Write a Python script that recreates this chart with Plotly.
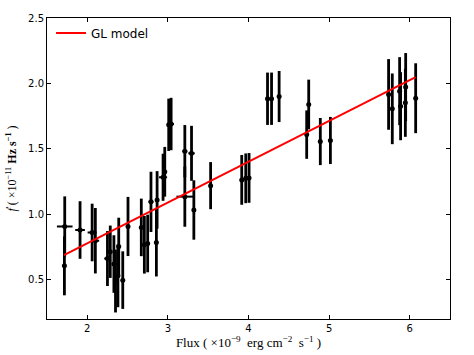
import plotly.graph_objects as go

flux = [1.716, 1.72, 1.91, 2.06, 2.10, 2.25, 2.285, 2.33, 2.35, 2.38, 2.39, 2.44, 2.505,
        2.67, 2.708, 2.749, 2.79, 2.857, 2.866, 2.94, 2.961, 3.01, 3.04, 3.21, 3.21,
        3.293, 3.322, 3.53, 3.916, 3.966, 4.007, 4.236, 4.286, 4.38, 4.722, 4.747,
        4.891, 5.016, 5.738, 5.784, 5.875, 5.887, 5.95, 5.946, 6.074]
fdot = [0.606, 0.907, 0.88, 0.861, 0.798, 0.662, 0.714, 0.62, 0.49, 0.53, 0.754, 0.497, 0.907,
        0.90, 0.767, 0.777, 1.095, 0.785, 1.11, 1.283, 1.325, 1.684, 1.69, 1.482, 1.135,
        1.466, 1.033, 1.219, 1.263, 1.275, 1.278, 1.883, 1.883, 1.90, 1.609, 1.839,
        1.556, 1.564, 1.916, 1.806, 1.941, 1.826, 1.972, 1.852, 1.887]
fdot_err = [0.225, 0.23, 0.22, 0.22, 0.25, 0.21, 0.2, 0.22, 0.24, 0.24, 0.22, 0.22, 0.226,
            0.22, 0.22, 0.22, 0.23, 0.26, 0.22, 0.18, 0.19, 0.2, 0.2, 0.2, 0.23,
            0.21, 0.227, 0.18, 0.19, 0.19, 0.19, 0.2, 0.2, 0.195, 0.185, 0.19,
            0.18, 0.18, 0.27, 0.27, 0.26, 0.26, 0.26, 0.26, 0.267]
flux_err = [0.0, 0.097, 0.06, 0.056, 0.047, 0.04, 0.015, 0.015, 0.015, 0.015, 0.015, 0.015, 0.015,
            0.027, 0.05, 0.015, 0.03, 0.015, 0.015, 0.05, 0.015, 0.015, 0.035, 0.03, 0.104,
            0.04, 0.015, 0.015, 0.015, 0.015, 0.015, 0.015, 0.015, 0.015, 0.015, 0.015,
            0.015, 0.015, 0.015, 0.015, 0.015, 0.015, 0.015, 0.015, 0.015]

model_flux = [1.71, 6.074]
model_fdot = [0.688, 2.048]

x_ticks = [2, 3, 4, 5, 6]
y_ticks = [0.5, 1.0, 1.5, 2.0, 2.5]

fig = go.Figure()
fig.add_trace(go.Scatter(
    x=flux, y=fdot, mode="markers",
    marker=dict(color="black", size=5),
    error_y=dict(type="data", array=fdot_err, color="black", thickness=2.8, width=0),
    error_x=dict(type="data", array=flux_err, color="black", thickness=2, width=0),
    showlegend=False))
fig.add_trace(go.Scatter(
    x=model_flux, y=model_fdot, mode="lines",
    line=dict(color="red", width=2), name="GL model"))

axis_common = dict(showline=True, linecolor="black", linewidth=1, mirror="ticks",
                   ticks="inside", ticklen=4, tickcolor="black", showgrid=False,
                   zeroline=False, automargin=False,
                   tickfont=dict(family="DejaVu Sans", size=10, color="black"))

fig.update_layout(
    width=474, height=355,
    margin=dict(l=47, r=24, t=18, b=36),
    paper_bgcolor="white", plot_bgcolor="white",
    xaxis=dict(range=[1.5, 6.5], tickvals=x_ticks, ticktext=[str(t) for t in x_ticks],
               title=dict(text="Flux ( ×10<sup>−9</sup>  erg cm<sup>−2</sup>  s<sup>−1</sup> )",
                          font=dict(family="Liberation Serif", size=13, color="black"),
                          standoff=4),
               **axis_common),
    yaxis=dict(range=[0.2, 2.5], tickvals=y_ticks, ticktext=["%.1f" % t for t in y_ticks],
               title=dict(text="<i>ḟ</i> ( ×10<sup>−11</sup> <b>Hz s<sup>−1</sup></b> )",
                          font=dict(family="Liberation Serif", size=12, color="black"),
                          standoff=8),
               **axis_common),
    legend=dict(x=0.01, y=0.998, xanchor="left", yanchor="top",
                font=dict(family="DejaVu Sans", size=12, color="black"),
                bgcolor="rgba(0,0,0,0)"),
)

fig.write_html("out.html", config={"displayModeBar": False},
               post_script="document.body.style.margin='0';")
